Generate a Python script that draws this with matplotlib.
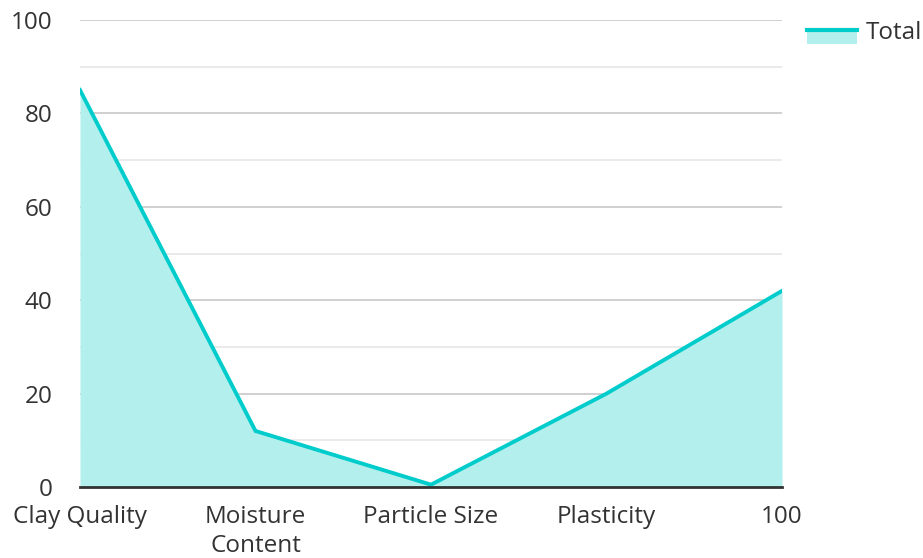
import matplotlib
matplotlib.use("Agg")
import matplotlib.pyplot as plt
from matplotlib.legend_handler import HandlerBase
from matplotlib.patches import Rectangle
from matplotlib.lines import Line2D

categories = ["Clay Quality", "Moisture\nContent", "Particle Size", "Plasticity", "100"]
total = [85, 12, 0.5, 20, 42]
yticks = [0, 20, 40, 60, 80, 100]
minor_yticks = [10, 30, 50, 70, 90]

line_color = "#00CCCC"
fill_color = "#B2EFED"
text_color = "#333333"

plt.rcParams['font.family'] = ['Open Sans', 'DejaVu Sans']

fig = plt.figure(figsize=(9.23, 5.58), dpi=100)
ax = fig.add_axes([80/923, 1-487/558, (782-80)/923, (487-20)/558])

x = list(range(len(categories)))
ax.fill_between(x, total, 0, color=fill_color, linewidth=0, zorder=2)
ax.plot(x, total, color=line_color, linewidth=2.8, zorder=3, solid_joinstyle='miter')

ax.set_xlim(0, len(categories)-1)
ax.set_ylim(0, 100)
ax.set_yticks(yticks)
ax.set_yticks(minor_yticks, minor=True)
ax.set_xticks(x)
ax.set_xticklabels(categories, linespacing=1.28)
ax.grid(axis='y', which='major', color='#C8C8C8', linewidth=1.2, zorder=1)
ax.grid(axis='y', which='minor', color='#E6E6E6', linewidth=1.2, zorder=1)
ax.tick_params(axis='both', which='both', length=0, labelsize=17.5, colors=text_color)
ax.tick_params(axis='y', pad=20)
ax.tick_params(axis='x', pad=13)
for s in ['top', 'right', 'left']:
    ax.spines[s].set_visible(False)
ax.spines['bottom'].set_color('#333333')
ax.spines['bottom'].set_linewidth(2)
ax.spines['bottom'].set_zorder(4)
ax.set_axisbelow(True)


class AreaHandler(HandlerBase):
    def create_artists(self, legend, orig_handle, xdescent, ydescent, width, height, fontsize, trans):
        y0 = -ydescent - height * 0.45
        r = Rectangle((-xdescent, y0), width, height, facecolor=fill_color,
                      edgecolor='none', transform=trans)
        l = Line2D([-xdescent, -xdescent + width], [y0 + height] * 2,
                   color=line_color, linewidth=3, transform=trans)
        return [r, l]


h = Rectangle((0, 0), 1, 1)
leg = fig.legend([h], ["Total"], handler_map={Rectangle: AreaHandler()},
                 loc='center left', bbox_to_anchor=(807/923, 1-33/558), frameon=False,
                 fontsize=17.5, handlelength=2.05, handleheight=0.55, handletextpad=0.35,
                 borderaxespad=0, borderpad=0)
for t in leg.get_texts():
    t.set_color(text_color)

fig.savefig("out.png", dpi=100)
